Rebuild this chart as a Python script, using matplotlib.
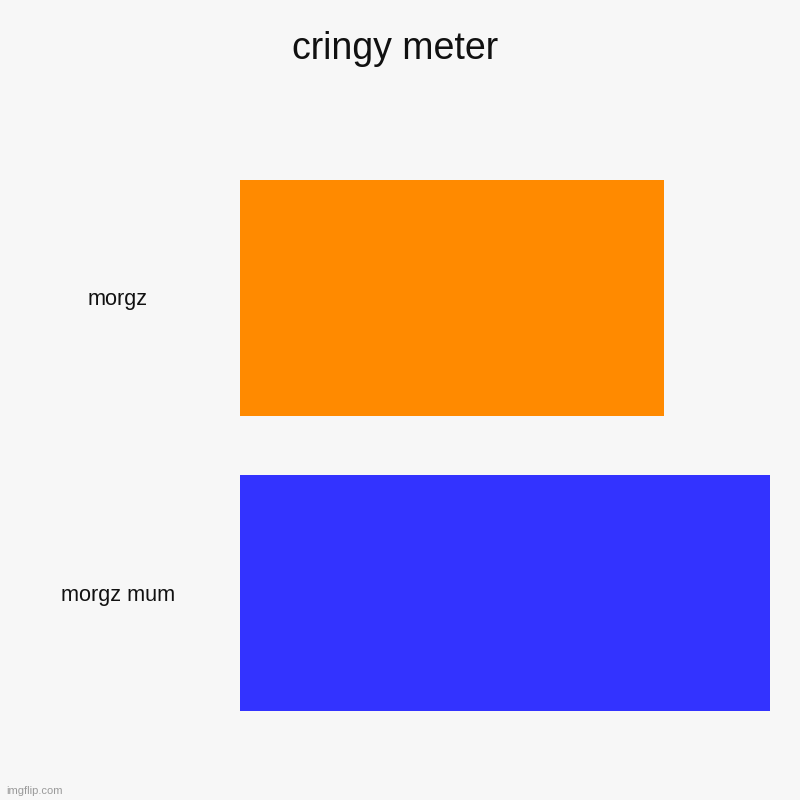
import matplotlib
matplotlib.use("Agg")
import matplotlib.pyplot as plt

TITLE = "cringy meter"
CATEGORIES = ["morgz", "morgz mum"]
VALUES = [8, 10]
COLORS = ["#ff8a00", "#3333ff"]
BG = "#f7f7f7"

fig = plt.figure(figsize=(8, 8), dpi=100, facecolor=BG)
# axes in figure px: left 240, right 770, top 150, bottom 741
ax = fig.add_axes([240/800, 1-741/800, 530/800, 591/800], facecolor=BG)
ax.barh(range(len(CATEGORIES)), VALUES, height=0.8, color=COLORS)
ax.set_xlim(0, max(VALUES))
ax.set_ylim(len(CATEGORIES) - 0.5, -0.5)
ax.set_xticks([])
ax.set_yticks([])
for s in ax.spines.values():
    s.set_visible(False)

for i, c in enumerate(CATEGORIES):
    fig.text(118/800, 1-(300 + i*295.5)/800, c, ha="center", va="center",
             fontsize=15.6, color="#111111", family="Liberation Sans")

fig.text(395/800, 1-49/800, TITLE, ha="center", va="center", fontsize=27,
         color="#111111", family="Liberation Sans")
fig.text(6/800, 1-791/800, "imgflip.com", ha="left", va="center", fontsize=8,
         color="#9a9a9a", family="Liberation Sans")

fig.savefig("out.png", dpi=100, facecolor=BG)
